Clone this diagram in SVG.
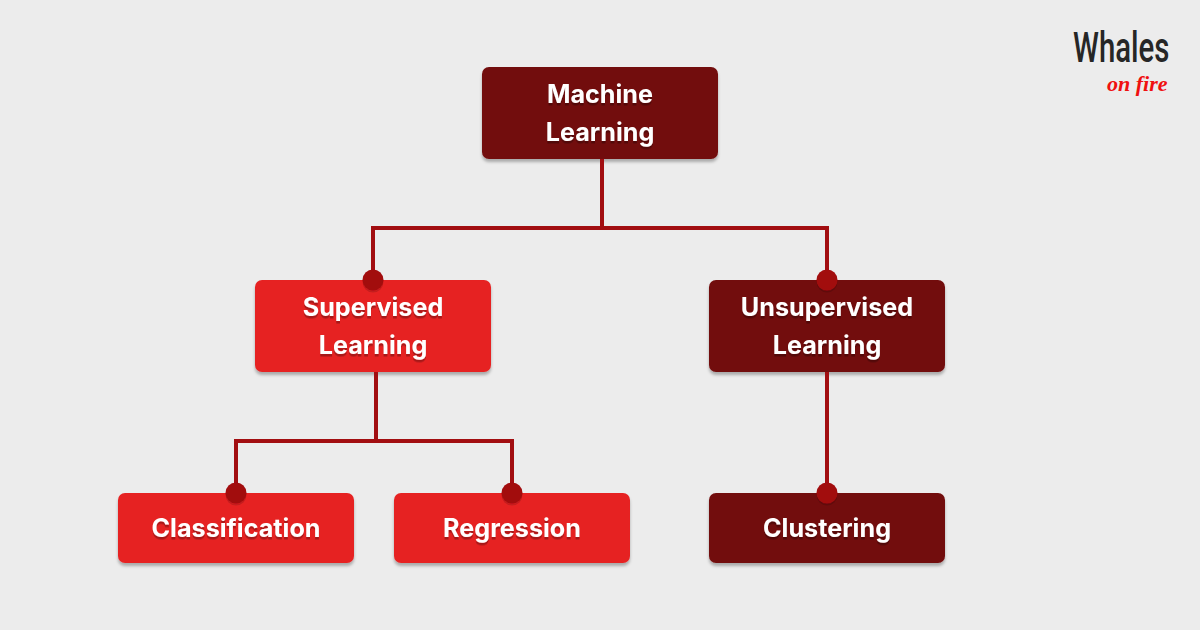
<svg xmlns="http://www.w3.org/2000/svg" width="1200" height="630" viewBox="0 0 1200 630">
<defs>
<style>
.box{filter:url(#bs)}
.dark{fill:#720c0d}
.red{fill:#e62323}
.lbl{font-family:"Inter","Liberation Sans",sans-serif;font-weight:700;font-size:25.200px;fill:#fff;text-anchor:middle;filter:url(#ts)}
.wire{fill:none;stroke:#a20e11;stroke-width:4}
.dot{fill:#a20e11;filter:url(#ds)}
</style>
<filter id="bs" x="-5%" y="-5%" width="110%" height="120%"><feDropShadow dx="0" dy="3" stdDeviation="1.500" flood-color="#000" flood-opacity="0.28"/></filter>
<filter id="ts" x="-5%" y="-10%" width="110%" height="130%"><feDropShadow dx="0" dy="2.500" stdDeviation="0.600" flood-color="#000" flood-opacity="0.28"/></filter>
<filter id="ds" x="-20%" y="-20%" width="140%" height="150%"><feDropShadow dx="0" dy="2" stdDeviation="0.700" flood-color="#000" flood-opacity="0.15"/></filter>
</defs>
<rect width="1200" height="630" fill="#ececec"/>
<g id="boxes-layer">
<g id="node-machine-learning"><rect class="box dark" x="482" y="67" width="236" height="92" rx="7"/><text class="lbl" x="600" y="103">Machine</text><text class="lbl" x="600" y="141">Learning</text></g>
<g id="node-supervised-learning"><rect class="box red" x="255" y="280" width="236" height="92" rx="7"/><text class="lbl" x="373" y="316">Supervised</text><text class="lbl" x="373" y="354">Learning</text></g>
<g id="node-unsupervised-learning"><rect class="box dark" x="709" y="280" width="236" height="92" rx="7"/><text class="lbl" x="827" y="316">Unsupervised</text><text class="lbl" x="827" y="354">Learning</text></g>
<g id="node-classification"><rect class="box red" x="118" y="493" width="236" height="70" rx="7"/><text class="lbl" x="236" y="537">Classification</text></g>
<g id="node-regression"><rect class="box red" x="394" y="493" width="236" height="70" rx="7"/><text class="lbl" x="512" y="537">Regression</text></g>
<g id="node-clustering"><rect class="box dark" x="709" y="493" width="236" height="70" rx="7"/><text class="lbl" x="827" y="537">Clustering</text></g>
</g>
<g id="connectors">
<path class="wire" d="M602 159V228M373 280V228H827V280"/>
<path class="wire" d="M376 372V441M236 493V441H512V493"/>
<path class="wire" d="M827 372V493"/>
<circle class="dot" cx="373" cy="280" r="10.500"/>
<circle class="dot" cx="827" cy="280" r="10.500"/>
<circle class="dot" cx="236" cy="493" r="10.500"/>
<circle class="dot" cx="512" cy="493" r="10.500"/>
<circle class="dot" cx="827" cy="493" r="10.500"/>
</g>
<g id="logo">
<text transform="translate(1073 62) scale(.7 1)" font-family="Roboto,sans-serif" font-weight="500" font-size="42" fill="#262626">Whales</text>
<text transform="translate(1107 91) scale(1.05 1)" font-family="'Liberation Serif',serif" font-style="italic" font-weight="700" font-size="21" fill="#f01010">on fire</text>
</g>
</svg>
